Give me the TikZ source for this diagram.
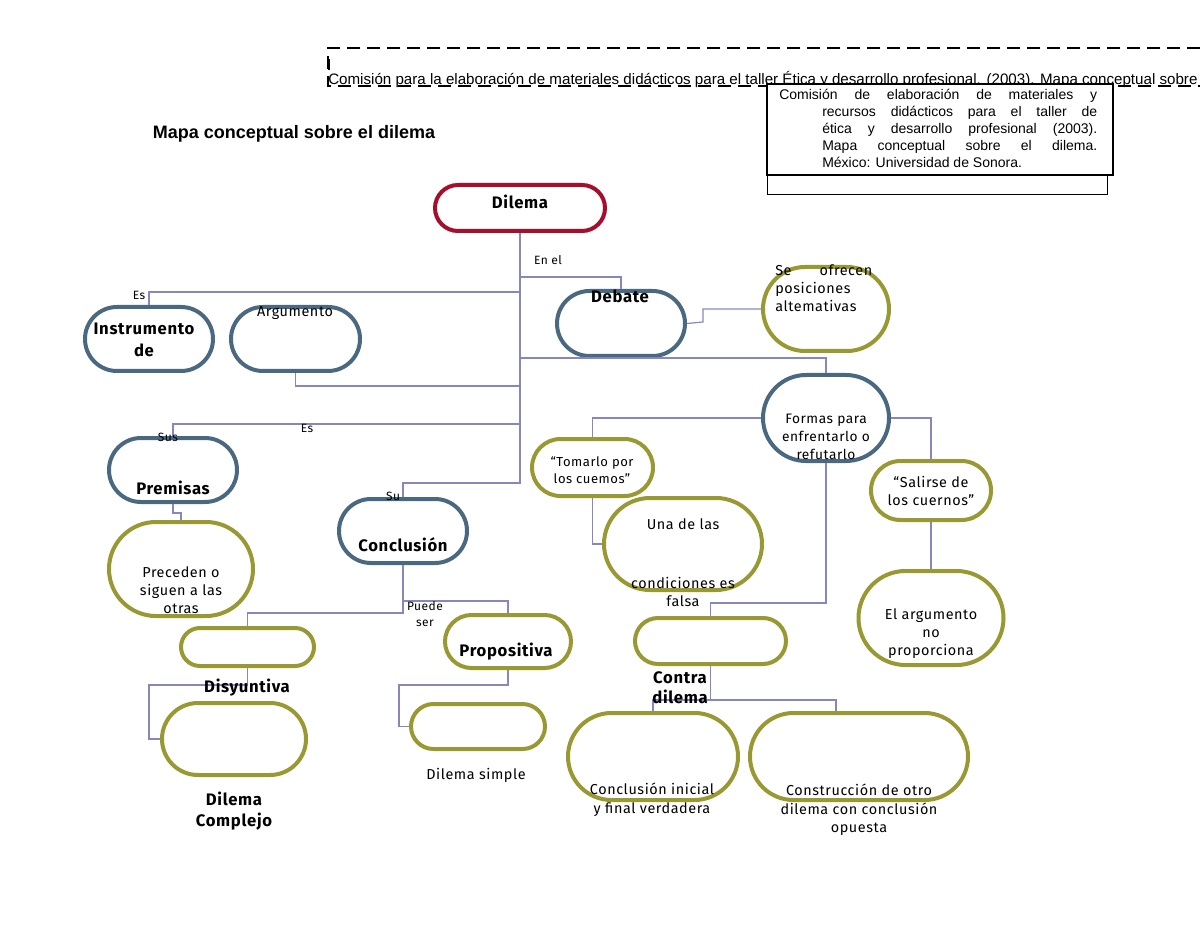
\documentclass[tikz,border=0pt]{standalone}
\usepackage{fontspec}
\usepackage{graphicx}
\setmainfont{Fira Sans}[LetterSpace=4]
\newfontfamily\arialf{Liberation Sans}
\usetikzlibrary{shapes.misc,calc}
\definecolor{cred}{RGB}{165,15,45}
\definecolor{cblue}{RGB}{74,104,128}
\definecolor{colive}{RGB}{153,153,51}
\definecolor{cconn}{RGB}{135,135,192}
\begin{document}
\begin{tikzpicture}[x=0.75pt,y=-0.75pt,
  sz/.style 2 args={minimum width=#1*0.75pt, minimum height=#2*0.75pt},
  stad/.style={rounded rectangle, draw=#1, line width=3pt, inner sep=0pt},
  conn/.style={draw=cconn, line width=0.9pt},
  txt/.style={inner sep=0pt, align=center, font=\fontsize{10.8}{13.5}\selectfont},
  btxt/.style={inner sep=0pt, align=center, font=\bfseries\fontsize{12.5}{16}\selectfont},
  stxt/.style={inner sep=0pt, align=center, font=\fontsize{9}{11.5}\selectfont}]
\useasboundingbox (0,0) rectangle (1200,927);

% header dashed box
\draw[line width=2pt, dash pattern=on 10pt off 5pt] (1200,48) -- (328,48) -- (328,86) -- (1200,86);
\draw[line width=1.5pt] (329,59) -- (329,70);
\node[anchor=west, inner sep=0pt] (hdr) at (328,80) {\resizebox{652pt}{!}{\arialf\fontsize{10}{12}\selectfont Comisión para la elaboración de materiales didácticos para el taller Ética y desarrollo profesional. (2003). Mapa conceptual sobre}};

% reference box
\draw[line width=0.75pt] (767,84) rectangle (1107,195);
\draw[line width=2pt, fill=white] (767,84) rectangle (1113,175);
\node[anchor=north west, inner sep=0pt, text width=238.5pt, align=justify,
  font=\arialf\fontsize{10.5}{12.75}\selectfont] (reft) at (779,89)
  {\hangindent=32.25pt\hangafter=1 Comisión de elaboración de materiales y\linebreak recursos didácticos para el taller de\linebreak ética y desarrollo profesional (2003).\linebreak Mapa conceptual sobre el dilema.\linebreak México: Universidad de Sonora.\par};

\node[inner sep=0pt, font=\arialf\bfseries\fontsize{13.5}{16}\selectfont] (title) at (294,134) {Mapa conceptual sobre el dilema};

% shapes
\node[stad=cred, sz={170}{46}] (dil) at (520,208) {};
\node[stad=cblue, sz={128}{64}] (ins) at (149,339) {};
\node[stad=cblue, sz={129}{64}] (arg) at (295.5,339) {};
\node[stad=cblue, sz={128}{65}] (deb) at (621,323.5) {};
\node[stad=colive, sz={126}{84}] (seo) at (826,309) {};
\node[stad=cblue, sz={126}{86}] (for) at (826,418) {};
\node[stad=cblue, sz={128}{64}] (pre) at (173,470) {};
\node[stad=colive, sz={144}{94}] (prc) at (181,569) {};
\node[stad=cblue, sz={128}{64}] (con) at (403,531) {};
\node[stad=colive, sz={121}{57}] (tom) at (592.5,467.5) {};
\node[stad=colive, sz={158}{92}] (una) at (683,544) {};
\node[stad=colive, sz={120}{59}] (sal) at (931,490.5) {};
\node[stad=colive, sz={145}{94}] (arn) at (931,618) {};
\node[stad=colive, sz={133}{38}] (dis) at (247.5,647) {};
\node[stad=colive, sz={126}{53}] (pro) at (508,641.5) {};
\node[stad=colive, sz={151}{46}] (ctr) at (710.5,641) {};
\node[stad=colive, sz={144}{72}] (com) at (234,739) {};
\node[stad=colive, sz={134}{45}] (sim) at (478,726.5) {};
\node[stad=colive, sz={170}{87}] (cin) at (653,756.5) {};
\node[stad=colive, sz={218}{87}] (cot) at (859,756.5) {};

% connectors
\coordinate (tA) at (520,277);
\coordinate (tB) at (520,292);
\coordinate (tC) at (520,358);
\coordinate (tD) at (520,386);
\coordinate (tE) at (520,424);
\coordinate (tF) at (520,483);
\draw[conn] (dil.south) -- (tF) -| (con.north);
\draw[conn] (tA) -| (deb.north);
\draw[conn] (tB) -| (ins.north);
\draw[conn] (arg.south) |- (tD);
\draw[conn] (tC) -| (for.north);
\draw[conn] (deb.east) -- (703,322) |- (seo.west);
\draw[conn] (tE) -| (pre.north);
\draw[conn] (pre.south) -- (173,513) -| (prc.north);
\draw[conn] (for.west) -| (tom.north);
\draw[conn] (tom.south) |- (una.west);
\draw[conn] (for.east) -| (sal.north);
\draw[conn] (sal.south) -- (arn.north);
\draw[conn] (for.south) -- (826,603) -| (ctr.north);
\draw[conn] (ctr.south) -- (710.5,700);
\draw[conn] (cin.north) -- (653,700) -- (836,700) -- ($(cot.north)+(-23,0)$);
\draw[conn] (con.south) -- (403,613) -| (dis.north);
\draw[conn] (403,601) -| (pro.north);
\draw[conn] (dis.south) -- (247.5,685) -- (149,685) |- (com.west);
\draw[conn] (pro.south) -- (508,685) -- (399,685) |- (sim.west);

% texts
\node[btxt] (t-dil) at (520,202) {Dilema};
\node[stxt] (l-enel) at (548,260) {En el};
\node[stxt] (l-es1) at (139,295) {Es};
\node[btxt, font=\bfseries\fontsize{12.5}{16.5}\selectfont] (t-ins) at (144,340) {Instrumento\\de};
\node[txt] (t-arg) at (295,313) {Argumento};
\node[btxt] (t-deb) at (620,296) {Debate};
\node[txt, anchor=north west, text width=72.75pt, align=justify] (t-seo) at (775,264) {Se ofrecen\linebreak posiciones\linebreak altemativas};
\node[txt, font=\fontsize{10.3}{13.5}\selectfont] (t-for) at (826,437) {Formas para\\enfrentarlo o\\refutarlo};
\node[stxt] (l-es2) at (307,428) {Es};
\node[stxt] (l-sus) at (168,437) {Sus};
\node[btxt] (t-pre) at (173,488) {Premisas};
\node[txt] (t-prc) at (181,590) {Preceden o\\siguen a las\\otras};
\node[stxt] (l-su) at (393,496) {Su};
\node[btxt] (t-con) at (403,545) {Conclusión};
\node[txt, font=\fontsize{9.8}{12.75}\selectfont] (t-tom) at (592,470) {“Tomarlo por\\los cuemos”};
\node[txt] (t-una1) at (683,524) {Una de las};
\node[txt] (t-una2) at (683,592) {condiciones es\\falsa};
\node[txt] (t-sal) at (931,491) {“Salirse de\\los cuernos”};
\node[txt] (t-arn) at (931,634) {El argumento\\no\\proporciona};
\node[stxt] (l-puede) at (425,614) {Puede\\ser};
\node[btxt] (t-pro) at (506,652) {Propositiva};
\node[btxt] (t-dis) at (247,688) {Disyuntiva};
\node[btxt, font=\bfseries\fontsize{12.5}{15}\selectfont] (t-ctr) at (680,688) {Contra\\dilema};
\node[btxt] (t-com) at (234,811) {Dilema\\Complejo};
\node[txt] (t-sim) at (476,775) {Dilema simple};
\node[txt, font=\fontsize{10.8}{14}\selectfont] (t-cin) at (652,800) {Conclusión inicial\\y final verdadera};
\node[txt, font=\fontsize{10.8}{14}\selectfont] (t-cot) at (859,810) {Construcción de otro\\dilema con conclusión\\opuesta};
\end{tikzpicture}
\end{document}
